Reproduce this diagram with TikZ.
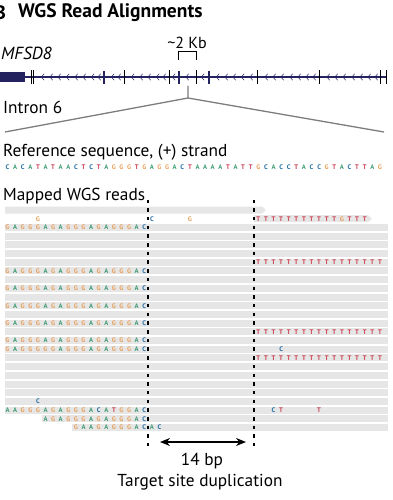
\documentclass[tikz,border=0pt]{standalone}
\usepackage{fontspec}
\setmainfont{PT Sans}
\usetikzlibrary{arrows.meta}

\definecolor{genenavy}{HTML}{25235F}
\definecolor{baseA}{HTML}{3F9C74}
\definecolor{baseC}{HTML}{1E6AA0}
\definecolor{baseG}{HTML}{E8A05C}
\definecolor{baseT}{HTML}{C83A4E}
\definecolor{readfill}{HTML}{E6E6E6}
\definecolor{zoomgrey}{HTML}{7D7D7D}

\tikzset{
	heading/.style={inner sep=0pt, font=\fontsize{17.3}{19}\selectfont},
	basechar/.style={inner sep=0pt, text height=4.7pt, text depth=0pt, font=\fontsize{6.6}{7}\selectfont\bfseries},
	readbar/.style={fill=readfill},
	exontick/.style={line width=0.9},
	bigexon/.style={genenavy, line width=2.4},
	chevron/.style={genenavy, line width=0.5},
	tsdline/.style={line width=1.1, dash pattern=on 3.5pt off 5.2pt},
	zoomline/.style={zoomgrey, line width=1.3},
}

% row, first column, bases
\newcommand{\readrow}[3]{%
	\foreach \nt [count=\k from #2] in {#3}
		\node[basechar, text=base\nt] (r#1-\k) at ({7.5+7.6*\k}, {210+8.7*#1}) {\nt};}

\begin{document}
\begin{tikzpicture}[x=1pt, y=-1pt]
	\useasboundingbox (0,0) rectangle (393,500);

	\node[heading, anchor=west, font=\fontsize{19.5}{21}\selectfont\bfseries] (title) at (18,13) {WGS Read Alignments};
	\node[heading, anchor=east, font=\fontsize{19.5}{21}\selectfont\bfseries] (panel) at ([xshift=-12pt]title.west) {B};

	\node[heading, anchor=west, font=\fontsize{17.5}{19}\selectfont\itshape] (gene) at (1,53) {MFSD8};
	\node[heading, font=\fontsize{16}{18}\selectfont] (kb) at (187,43) {\textasciitilde 2 Kb};
	\draw[line width=1] (178,60) -- (178,52) -- (196,52) -- (196,60);

	\fill[genenavy] (0,72) rectangle (25,82.5);
	\draw[genenavy, line width=2.4] (25,77) -- (387,77);
	\foreach \x in {41.5,50,58,66.5,75,83,91.5,98,111.5,118,131.5,140,148,156.5,163,172.5,186,201.5,216.5,225,233,241.5,250,265,273,281,290,298,306,313,327,335,343,352,360,368,375}
		\draw[chevron] (\x+2.6,73.8) -- (\x,77) -- (\x+2.6,80.2);
	\foreach \x in {31,33.5,124,169,196,257,319,380,386}
		\draw[exontick] (\x,70) -- (\x,84.5);
	\foreach \x in {104,179,209}
		\draw[bigexon] (\x,71) -- (\x,84);

	\coordinate (zoomtop) at (188,86);
	\coordinate (zoomknee) at (188,98);
	\coordinate (zoomL) at (5,132);
	\coordinate (zoomR) at (384,132);
	\draw[zoomline] (zoomtop) -- (zoomknee) -- (zoomL);
	\draw[zoomline] (zoomknee) -- (zoomR);
	\node[heading, anchor=west] (intron) at (3,107) {Intron 6};

	\node[heading, anchor=west] (reflbl) at (3,152) {Reference sequence, (+) strand};
	\foreach \nt [count=\k from 0] in {C,A,C,A,T,A,T,A,A,C,T,C,T,A,G,G,G,T,G,A,G,G,A,C,T,A,A,A,A,T,A,T,T,G,C,A,C,C,T,A,C,C,G,T,A,C,T,T,A,G}
		\node[basechar, text=base\nt] (ref-\k) at ({7.5+7.6*\k}, 167) {\nt};

	\node[heading, anchor=west] (mapped) at (3,196) {Mapped WGS reads};

	\fill[readbar] (5,206.5) -- (262,206.5) -- (266,210) -- (262,213.5) -- (5,213.5) -- cycle;
	\fill[readbar] (254,215.2) -- (368,215.2) -- (372,218.7) -- (368,222.2) -- (254,222.2) -- cycle;
	\foreach \i in {2,...,23}
		\fill[readbar] (5,{210+8.7*\i-3.5}) rectangle (388,{210+8.7*\i+3.5});
	\fill[readbar] (41.7,{210+8.7*24-3.5}) rectangle (388,{210+8.7*24+3.5});
	\fill[readbar] (72,{210+8.7*25-3.5}) rectangle (388,{210+8.7*25+3.5});

	\readrow{1}{4}{G}
	\readrow{1}{19}{C}
	\readrow{1}{24}{G}
	\readrow{1}{33}{T,T,T,T,T,T,T,T,T,T,T,G,T,T,T}
	\foreach \i in {2,7,9,11,13,15}
		{\readrow{\i}{0}{G,A,G,G,G,A,G,A,G,G,G,A,G,A,G,G,G,A,C}}
	\foreach \i in {6,14,17}
		{\readrow{\i}{33}{T,T,T,T,T,T,T,T,T,T,T,T,T,T,T,T,T}}
	\readrow{16}{0}{G,A,G,G,G,G,G,A,G,G,G,A,G,A,G,G,G,A,C}
	\readrow{16}{36}{C}
	\readrow{22}{4}{C}
	\readrow{23}{0}{A,A,G,G,G,A,G,A,G,G,G,A,C,A,T,G,G,A,C}
	\readrow{23}{35}{C,T}
	\readrow{23}{41}{T}
	\readrow{24}{5}{A,G,A,G,G,G,A,G,A,G,G,G,A,C}
	\readrow{25}{9}{G,A,A,G,A,G,G,G,A,C,A,C}

	\draw[tsdline] (148,199.5) -- (148,446);
	\draw[tsdline] (254,199.5) -- (254,446);
	\coordinate (dupL) at (148,442);
	\coordinate (dupR) at (254,442);
	\draw[{Stealth[length=10pt,width=8pt]}-{Stealth[length=10pt,width=8pt]}, line width=1.5, shorten <=12pt, shorten >=8pt] (dupL) -- (dupR);
	\node[heading] (bp) at (202,461) {14 bp};
	\node[heading] (tsd) at (200,482) {Target site duplication};
\end{tikzpicture}
\end{document}
